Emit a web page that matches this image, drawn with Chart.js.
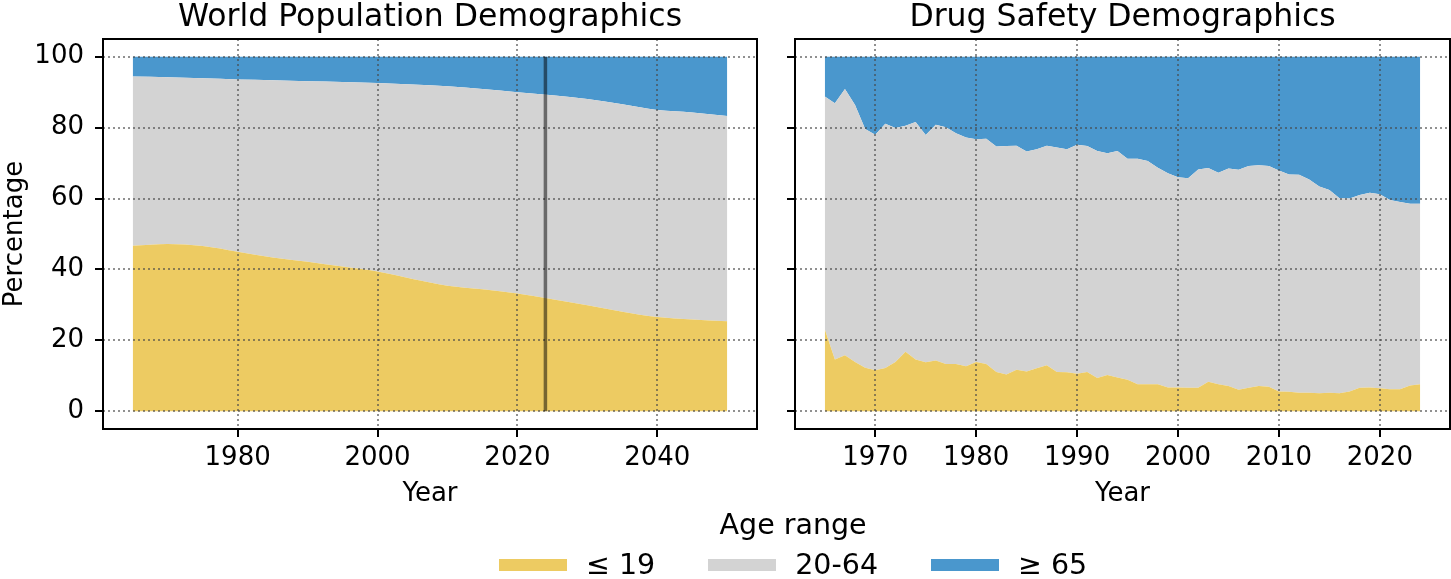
<!DOCTYPE html>
<html>
<head>
<meta charset="utf-8">
<script src="https://cdn.jsdelivr.net/npm/chart.js@4.4.1/dist/chart.umd.min.js"></script>
<style>
  body { margin: 0; background: #fff; font-family: "DejaVu Sans", sans-serif; }
  #wrap { position: relative; width: 1451px; height: 579px; overflow: hidden; }
  #left { position: absolute; left: 0; top: 0; }
  #right { position: absolute; left: 775px; top: 0; }
  #legend { position: absolute; left: 499px; top: 507px; color: #000; }
  #legend .title { text-align: center; font-size: 28.5px; line-height: 36px; }
  #legend .row { display: flex; align-items: center; margin-top: 6px; }
  #legend .patch { width: 68px; height: 12px; }
  #legend .label { font-size: 28.5px; margin-left: 19px; margin-right: 53px; line-height: 32px; }
  #legend .label:last-child { margin-right: 0; }
</style>
</head>
<body>
<div id="wrap">
  <canvas id="left" width="775" height="520"></canvas>
  <canvas id="right" width="676" height="520"></canvas>
  <div id="legend"></div>
</div>
<script>
// age groups
const seriesNames = ["≤ 19", "20-64", "≥ 65"];
const seriesColors = ["#edcb62", "#d3d3d3", "#4a97cd"];

// world population (percent per age group)
const worldYears = [1965, 1970, 1975, 1980, 1985, 1990, 1995, 2000, 2005, 2010, 2015, 2020, 2025, 2030, 2035, 2040, 2045, 2050];
const worldYoung = [46.7, 47.2, 46.6, 45.0, 43.4, 42.2, 40.8, 39.4, 37.3, 35.4, 34.4, 33.2, 31.6, 29.9, 28.1, 26.6, 25.9, 25.4];
const worldAdult = [47.7, 47.0, 47.3, 48.6, 50.0, 50.9, 52.1, 53.2, 54.9, 56.3, 56.5, 56.8, 57.5, 58.2, 58.5, 58.4, 58.4, 57.9];
const worldOld   = [5.6, 5.8, 6.1, 6.4, 6.6, 6.9, 7.1, 7.4, 7.8, 8.3, 9.1, 10.0, 10.9, 11.9, 13.4, 15.0, 15.7, 16.7];
const markerYear = 2024;

// drug safety reports (percent per age group)
const drugYears = [1965, 1966, 1967, 1968, 1969, 1970, 1971, 1972, 1973, 1974,
  1975, 1976, 1977, 1978, 1979, 1980, 1981, 1982, 1983, 1984,
  1985, 1986, 1987, 1988, 1989, 1990, 1991, 1992, 1993, 1994,
  1995, 1996, 1997, 1998, 1999, 2000, 2001, 2002, 2003, 2004,
  2005, 2006, 2007, 2008, 2009, 2010, 2011, 2012, 2013, 2014,
  2015, 2016, 2017, 2018, 2019, 2020, 2021, 2022, 2023, 2024];
const drugYoung = [23.1, 14.6, 15.8, 13.9, 12.3, 11.6, 12.2, 13.9, 16.8, 14.6,
  13.8, 14.3, 13.3, 13.3, 12.7, 13.9, 13.3, 11.1, 10.4, 11.7,
  11.2, 12.1, 13.0, 11.1, 11.0, 10.6, 11.1, 9.4, 10.2, 9.5,
  8.9, 7.6, 7.6, 7.6, 6.7, 6.7, 6.6, 6.6, 8.3, 7.6,
  7.1, 6.1, 6.6, 7.1, 6.9, 5.6, 5.5, 5.2, 5.2, 5.1,
  5.2, 5.1, 5.6, 6.6, 6.7, 6.5, 6.2, 6.2, 7.3, 7.6];
const drugAdult = [65.7, 72.3, 75.1, 72.5, 67.3, 66.4, 68.9, 66.0, 63.7, 67.0,
  64.1, 66.5, 66.8, 65.1, 64.5, 62.8, 63.6, 63.6, 64.4, 63.2,
  62.1, 61.8, 61.9, 63.3, 62.9, 64.6, 63.7, 64.0, 62.6, 63.9,
  62.3, 63.6, 63.0, 61.1, 60.4, 59.3, 59.1, 61.6, 60.3, 59.7,
  61.4, 62.0, 62.6, 62.3, 62.3, 62.3, 61.3, 61.5, 60.2, 58.3,
  57.2, 55.0, 54.4, 54.4, 54.9, 54.7, 53.4, 52.8, 51.2, 50.9];
const drugOld = [11.2, 13.1, 9.1, 13.6, 20.4, 22.0, 18.9, 20.1, 19.5, 18.4,
  22.1, 19.2, 19.9, 21.6, 22.8, 23.3, 23.1, 25.3, 25.2, 25.1,
  26.7, 26.1, 25.1, 25.6, 26.1, 24.8, 25.2, 26.6, 27.2, 26.6,
  28.8, 28.8, 29.4, 31.3, 32.9, 34.0, 34.3, 31.8, 31.4, 32.7,
  31.5, 31.9, 30.8, 30.6, 30.8, 32.1, 33.2, 33.3, 34.6, 36.6,
  37.6, 39.9, 40.0, 39.0, 38.4, 38.8, 40.4, 41.0, 41.5, 41.5];

// axis ticks
const yTicks = [0, 20, 40, 60, 80, 100];
const worldXTicks = [1980, 2000, 2020, 2040];
const drugXTicks = [1970, 1980, 1990, 2000, 2010, 2020];

Chart.defaults.font.family = "'DejaVu Sans', sans-serif";
Chart.defaults.color = "#000";

function toPoints(years, vals) {
  return years.map((yr, i) => ({ x: yr, y: vals[i] }));
}

function makeDatasets(years, groups, smooth) {
  return groups.map((vals, i) => ({
    label: seriesNames[i],
    data: toPoints(years, vals),
    backgroundColor: seriesColors[i],
    borderWidth: 0,
    pointRadius: 0,
    fill: i === 0 ? "origin" : "-1",
    cubicInterpolationMode: smooth ? "monotone" : "default",
    tension: 0,
  }));
}

const gridOpts = {
  z: 1,
  color: "rgba(70,70,70,0.6)",
  lineWidth: 2,
  tickColor: "#000",
  tickWidth: 2,
  tickLength: 8,
  tickBorderDash: [],
};

// box around the plot area + optional marker year line
const framePlugin = {
  id: "frame",
  afterDraw(chart) {
    const ctx = chart.ctx;
    const a = chart.chartArea;
    const mk = chart.options.plugins.frame.marker;
    if (mk) {
      const px = chart.scales.x.getPixelForValue(mk);
      ctx.save();
      ctx.strokeStyle = "rgba(0,0,0,0.5)";
      ctx.lineWidth = 3.5;
      ctx.beginPath();
      ctx.moveTo(px, chart.scales.y.getPixelForValue(0));
      ctx.lineTo(px, chart.scales.y.getPixelForValue(100));
      ctx.stroke();
      ctx.restore();
    }
    ctx.save();
    ctx.strokeStyle = "#000";
    ctx.lineWidth = 2;
    ctx.strokeRect(a.left, a.top, a.right - a.left, a.bottom - a.top);
    ctx.restore();
  },
};

function makeChart(id, cfg) {
  return new Chart(document.getElementById(id), {
    type: "line",
    data: { datasets: makeDatasets(cfg.years, cfg.groups, cfg.smooth) },
    options: {
      responsive: false,
      animation: false,
      devicePixelRatio: 1,
      layout: { padding: { top: 0, left: 0, right: cfg.padRight, bottom: 0 } },
      plugins: {
        legend: { display: false },
        tooltip: { enabled: false },
        frame: { marker: cfg.marker },
        title: {
          display: true,
          text: cfg.title,
          fullSize: false,
          font: { size: 31.5, weight: "normal", lineHeight: 1.1 },
          padding: { top: 0, bottom: 4.35 },
        },
      },
      scales: {
        x: {
          type: "linear",
          min: cfg.xMin,
          max: cfg.xMax,
          grid: gridOpts,
          border: { display: false, dash: [2, 3] },
          afterBuildTicks: (s) => { s.ticks = cfg.xTicks.map((v) => ({ value: v })); },
          afterFit: (s) => { s.height = 91; },
          ticks: { font: { size: 26 }, padding: 6, maxRotation: 0, callback: (v) => String(v) },
          title: { display: true, text: "Year", font: { size: 26 }, padding: { top: 10, bottom: 10 } },
        },
        y: {
          stacked: true,
          min: -5,
          max: 105,
          grid: gridOpts,
          border: { display: false, dash: [2, 3] },
          afterBuildTicks: (s) => { s.ticks = yTicks.map((v) => ({ value: v })); },
          afterFit: (s) => { s.width = cfg.yWidth; },
          ticks: { display: cfg.showY, font: { size: 26 }, padding: 11, callback: (v) => String(v) },
          title: { display: cfg.showY, text: "Percentage", font: { size: 26 }, padding: 0 },
        },
      },
    },
    plugins: [framePlugin],
  });
}

makeChart("left", {
  years: worldYears,
  groups: [worldYoung, worldAdult, worldOld],
  smooth: true,
  title: "World Population Demographics",
  xMin: 1960.75, xMax: 2054.25,
  xTicks: worldXTicks,
  yWidth: 103,
  padRight: 18,
  showY: true,
  marker: markerYear,
});

makeChart("right", {
  years: drugYears,
  groups: [drugYoung, drugAdult, drugOld],
  smooth: false,
  title: "Drug Safety Demographics",
  xMin: 1962.05, xMax: 2026.95,
  xTicks: drugXTicks,
  yWidth: 20,
  padRight: 1,
  showY: false,
  marker: null,
});

// shared legend
const legend = document.getElementById("legend");
legend.innerHTML = '<div class="title">Age range</div><div class="row"></div>';
const row = legend.querySelector(".row");
seriesNames.forEach((name, i) => {
  const p = document.createElement("div");
  p.className = "patch";
  p.style.background = seriesColors[i];
  const t = document.createElement("div");
  t.className = "label";
  t.textContent = name;
  row.appendChild(p);
  row.appendChild(t);
});
</script>
</body>
</html>
